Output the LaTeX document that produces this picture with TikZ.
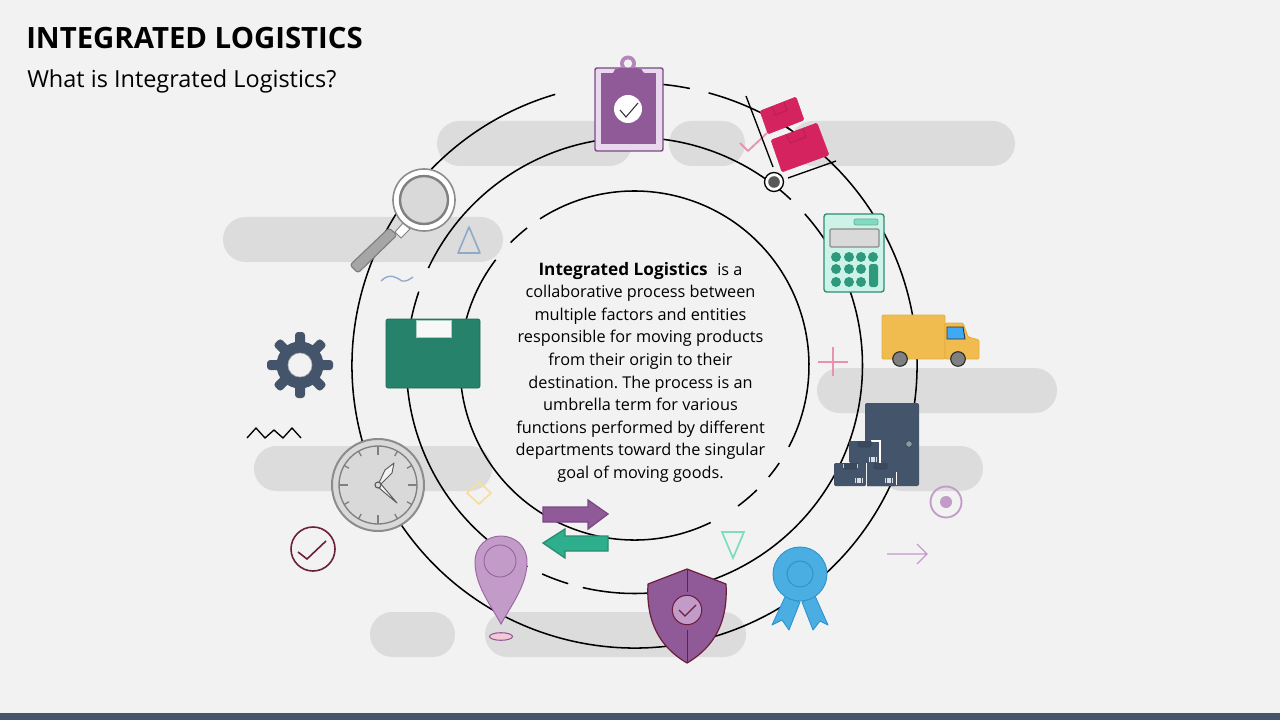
\documentclass[tikz,border=0pt]{standalone}
\usepackage{fontspec}
\setmainfont{Open Sans}
\frenchspacing
\definecolor{bgc}{HTML}{F2F2F2}
\definecolor{pillc}{HTML}{DCDCDC}
\definecolor{navy}{HTML}{44546A}
\definecolor{navyd}{HTML}{37465A}
\definecolor{slate}{HTML}{8EA9C9}
\definecolor{purp}{HTML}{8F5A97}
\definecolor{purpd}{HTML}{7B4A84}
\definecolor{lilac}{HTML}{C39BC9}
\definecolor{lilacl}{HTML}{EAD9EE}
\definecolor{crim}{HTML}{D4235E}
\definecolor{crimd}{HTML}{B81E50}
\definecolor{teal}{HTML}{26826A}
\definecolor{mint}{HTML}{CDF3E8}
\definecolor{mintd}{HTML}{2E8B73}
\definecolor{mintm}{HTML}{2DAE8C}
\definecolor{mintl}{HTML}{7FDCC0}
\definecolor{truck}{HTML}{F0BC4F}
\definecolor{truckd}{HTML}{E3AE3E}
\definecolor{sky}{HTML}{4BAEE3}
\definecolor{skyd}{HTML}{2E94CC}
\definecolor{glass}{HTML}{3FA9F5}
\definecolor{wine}{HTML}{6B1F3A}
\definecolor{sand}{HTML}{F5DFA0}
\tikzset{
  px/.style={x=0.75pt,y=-0.75pt},
  ringline/.style={black,line width=1.15pt,line cap=butt},
  pillfill/.style={fill=pillc,rounded corners=16.8pt},
  thinmark/.style={line width=1.4pt,line join=round},
  tapeline/.style={line width=0.6pt},
}
\newcommand{\ringarc}[3]{\draw[ringline] ({634.5+#1*cos(#2)},{365.5-#1*sin(#2)}) arc[start angle=-#2,end angle=-#3,radius=#1];}
\newcommand{\pillbar}[3]{\fill[pillfill] (#1,#3) rectangle (#2,#3+45);}
\begin{document}
\begin{tikzpicture}[px]
\useasboundingbox (0,0) rectangle (1280,720);
\fill[bgc] (0,0) rectangle (1280,720);
\fill[navy] (0,713) rectangle (1280,720);
% bars
\pillbar{437}{632}{121}
\pillbar{669}{745}{121}
\pillbar{790}{1015}{121}
\pillbar{223}{503}{217}
\pillbar{817}{1057}{368}
\pillbar{254}{492}{446}
\pillbar{880}{983}{446}
\pillbar{370}{455}{612}
\pillbar{485}{746}{612}
% rings
\ringarc{282.5}{74.8}{-253.7}
\ringarc{282.5}{95}{78.7}
\ringarc{228}{41.7}{-103.1}
\ringarc{228}{-106.9}{-113.9}
\ringarc{228}{-118}{-198.9}
\ringarc{228}{154.7}{46.7}
\ringarc{174.5}{122.8}{-27.8}
\ringarc{174.5}{-34}{-39.7}
\ringarc{174.5}{-45.5}{-53.6}
\ringarc{174.5}{-64.1}{-217.3}
\ringarc{174.5}{135.2}{128}
% small marks
\draw[thinmark,color=crim!45!bgc] (740,143)--(748,151)--(767,133);
\draw[thinmark,color=crim!50!white] (818,362)--(848,362) (833,347)--(833,376);
\draw[thinmark,color=lilac] (946,502) circle[radius=15.5];
\fill[lilac] (946,502) circle[radius=6];
\draw[line width=0.9pt,color=lilac] (887,554)--(926,554) (917,544)--(927,554)--(917,564);
\draw[color=slate,line width=1.2pt,line join=round] (469,227)--(480,253)--(458,253)--cycle;
\draw[color=slate,line width=1pt] (381,281) .. controls (390,272) and (397,278) .. (402,281) .. controls (406,282) and (410,279) .. (413,277);
\draw[black,line width=1pt] (247,438)--(256,428)--(265,438)--(274,430)--(283,438)--(292,428)--(301,438);
\draw[wine,line width=1.2pt] (313,549) circle[radius=22];
\draw[wine,line width=1.2pt] (298,552)--(307,559)--(326,541);
\draw[line width=1.3pt,color=sand] (479,482)--(491,493)--(479,504)--(467,493)--cycle;
\draw[line width=1.3pt,color=mintl] (722,532)--(744,532)--(733,558)--cycle;
% clipboard
\draw[line width=1.1pt,color=purpd,fill=lilacl,rounded corners=1.5pt] (595,68) rectangle (663,151);
\fill[purp] (601,73) rectangle (656,144);
\fill[lilac!70!purp] (628,63.5) circle[radius=8];
\fill[bgc] (628,63.5) circle[radius=4.2];
\fill[purp,rounded corners=3pt] (613,76) -- (613,71) -- (617,68) -- (639,68) -- (644,71) -- (644,76) -- cycle;
\fill[white] (628,109) circle[radius=14];
\draw[line width=0.8pt,black!80] (620,110)--(626,117)--(638,103);
% boxes and hand truck
\draw[black,line width=1pt] (746,96)--(773,167) (788,178)--(836,161);
\filldraw[crim,draw=crim,line width=0.4pt,rounded corners=1pt] (760,111)--(796,97)--(804,120)--(768,134)--cycle;
\filldraw[crim,draw=crim,line width=0.4pt,rounded corners=1pt] (771,140)--(817,123)--(829,155)--(782,172)--cycle;
\draw[crimd,tapeline] (772,106.5)--(775,115)--(787,110.5)--(784,102);
\draw[crimd,tapeline] (786,134.5)--(790,143)--(806,137)--(803,128.5);
\draw[black,line width=0.9pt] (787,127)--(791,130);
\draw[black,line width=1pt,fill=white] (774,182) circle[radius=9.5];
\fill[black!65] (774,182) circle[radius=5.8];
% calculator
\draw[mintd,fill=mint,line width=1pt,rounded corners=2pt] (824,214) rectangle (884,292);
\draw[mintd!70!white,fill=mintl,line width=.6pt,rounded corners=1.5pt] (854,219) rectangle (878,225);
\draw[black!45,fill=black!15,line width=.9pt,rounded corners=1pt] (830,229) rectangle (879,247);
\foreach \bx/\by in {836/257,849/257,861/257,873/257,836/269,849/269,861/269,836/282,849/282,861/282}
  \fill[mintd!60!mintm] (\bx,\by) circle[radius=5];
\fill[mintd!60!mintm,rounded corners=2pt] (869,264) rectangle (878,287);
% truck
\draw[truckd,fill=truck,line width=.7pt,rounded corners=1pt] (882,315) rectangle (945,359);
\draw[truckd,fill=truck,line width=.7pt,rounded corners=1pt] (945,323)--(963,323)--(968,337)--(979,340)--(979,359)--(945,359)--cycle;
\draw[black!80,fill=glass,line width=.7pt] (947,327)--(963,327)--(965,339)--(947,339)--cycle;
\foreach \wx in {900,958} \draw[black!85,fill=black!50,line width=.8pt] (\wx,359) circle[radius=7.3];
% door and boxes
\fill[navy,rounded corners=1.5pt] (865,403) rectangle (919,486);
\draw[navyd,fill=navy!60!white,line width=.5pt] (909,444) circle[radius=3.3];
\fill[navy,rounded corners=1pt] (849,441) rectangle (880,463);
\fill[navy,rounded corners=1pt] (834,463) rectangle (866,486);
\fill[navy,rounded corners=1pt] (866,463) rectangle (896,486);
\draw[white,line width=.9pt] (871,441)--(880,441)--(880,463);
\draw[white,line width=.6pt] (896,472)--(896,485);
\draw[bgc,line width=.3pt] (866,463)--(866,486);
\draw[navyd,fill=navyd!80!navy,tapeline,rounded corners=1pt] (858,441) -- (858,447) -- (871,447) -- (871,441);
\draw[navyd,fill=navyd!80!navy,tapeline,rounded corners=1pt] (843,463) -- (843,469) -- (857,469) -- (857,463);
\draw[navyd,fill=navyd!80!navy,tapeline,rounded corners=1pt] (874,463) -- (874,469) -- (887,469) -- (887,463);
\draw[white!70!navy,line width=.4pt] (843,464)--(843,468) (857,464)--(857,468);
\foreach \lx/\ly in {869/457,855/478,885/478}
  \foreach \i in {0,1.7,3.4,5.1,6.8} \fill[white!80!navy] (\lx+\i,\ly) rectangle (\lx+\i+1.2,\ly+5);
% magnifier
\draw[black!50,fill=white,line width=.7pt] (395,232)--(403,223)--(410,229)--(401,238)--cycle;
\draw[black!50,fill=black!35,line width=.9pt,line join=round,rounded corners=2pt] (350,265)--(389,228)--(397,235)--(358,273)--cycle;
\draw[black!45,fill=white,line width=1.2pt] (424,200) circle[radius=31];
\draw[black!50,fill=black!15,line width=1.8pt] (424,200) circle[radius=24];
% green box
\draw[teal!80!black,fill=teal,line width=.5pt,rounded corners=1.5pt] (386,319) rectangle (480,388);
\draw[white!60!teal,fill=bgc!50!white,line width=.5pt] (416,320) -- (416,337) -- (451,337) -- (451,320) -- cycle;
% gear
\foreach \a in {0,45,...,315} \fill[navy,rounded corners=2.4pt,rotate around={\a:(300,365)}] (300,360) rectangle (333,370);
\fill[navy] (300,365) circle[radius=23.5];
\draw[white!55!navy,fill=bgc,line width=.5pt] (300,365) circle[radius=12];
% clock
\draw[black!45,fill=black!15,line width=1.5pt] (378,485) circle[radius=46];
\draw[black!50,line width=1pt] (378,485) circle[radius=39];
\foreach \a in {0,90,180,270} \draw[black!50,line width=1pt] ({378+39*cos(\a)},{485+39*sin(\a)})--({378+30*cos(\a)},{485+30*sin(\a)});
\foreach \a in {30,60,120,150,210,240,300,330} \draw[black!50,line width=1pt] ({378+39*cos(\a)},{485+39*sin(\a)})--({378+33.5*cos(\a)},{485+33.5*sin(\a)});
\draw[black!65,fill=bgc,line width=.7pt,line join=round] (378,485)--(385,470)--(394,463)--(392,473)--(380,485)--cycle;
\draw[black!65,fill=bgc,line width=.7pt,line join=round] (380,483)--(397,503)--(385,493)--(378,487)--cycle;
\draw[black!65,fill=black!15,line width=.8pt] (378,485) circle[radius=3];
% arrows
\draw[purpd,fill=purp,line width=1pt,line join=miter] (543,507)--(588,507)--(588,500)--(608,514)--(588,529)--(588,522)--(543,522)--cycle;
\draw[mintd,fill=mintm,line width=1pt,line join=miter] (608,536)--(565,536)--(565,529)--(543,543)--(565,558)--(565,551)--(608,551)--cycle;
% pin
\draw[purp!80!lilac,fill=lilac,line width=.7pt] (501,624) .. controls (490,604) and (475,585) .. (475,562) .. controls (475,546) and (487,536) .. (501,536) .. controls (515,536) and (527,546) .. (527,562) .. controls (527,585) and (512,604) .. (501,624) -- cycle;
\draw[purp!85!lilac,line width=.7pt] (500,561) circle[radius=16];
\draw[purp,fill=crim!25!white,line width=.8pt] (501,636.5) ellipse[x radius=11.5,y radius=3.8];
% shield
\draw[wine,fill=purp,line width=.9pt,line join=round] (687,569)--(726,584) .. controls (728,620) and (716,646) .. (687,663) .. controls (658,646) and (646,620) .. (648,584) -- cycle;
\draw[wine,line width=.7pt] (687,569)--(687,592) (687,630)--(687,663);
\draw[wine,fill=lilac,line width=.8pt] (687,610) circle[radius=14.7];
\draw[wine,line width=1pt] (679,610)--(685,616)--(696,605);
% ribbon
\draw[skyd,fill=sky,line width=.7pt,line join=round] (785,597)--(772,625)--(782,620)--(789,630)--(800,602)--cycle;
\draw[skyd,fill=sky,line width=.7pt,line join=round] (802,602)--(813,630)--(820,621)--(828,625)--(815,596)--cycle;
\draw[skyd,fill=sky,line width=.7pt] (800,574) circle[radius=27];
\draw[skyd,line width=.8pt] (800,574) circle[radius=13];
% text
\node[anchor=base west,inner sep=0pt,text=black] (title) at (26,48.5) {\fontsize{22}{26}\selectfont\bfseries INTEGRATED LOGISTICS};
\node[anchor=base west,inner sep=0pt,text=black] (subtitle) at (27,88) {\fontsize{17.6}{21}\selectfont What is Integrated Logistics?};
\node[anchor=center,inner sep=0pt,align=center,text=black,font=\fontsize{12.2}{16.95}\selectfont] (body) at (640.5,372.3) {%
{\fontsize{12.9}{16.95}\selectfont\textbf{Integrated Logistics}}\,\, is a\\
collaborative process between\\
multiple factors and entities\\
responsible for moving products\\
from their origin to their\\
destination. The process is an\\
umbrella term for various\\
functions performed by different\\
departments toward the singular\\
goal of moving goods.};
\end{tikzpicture}
\end{document}
